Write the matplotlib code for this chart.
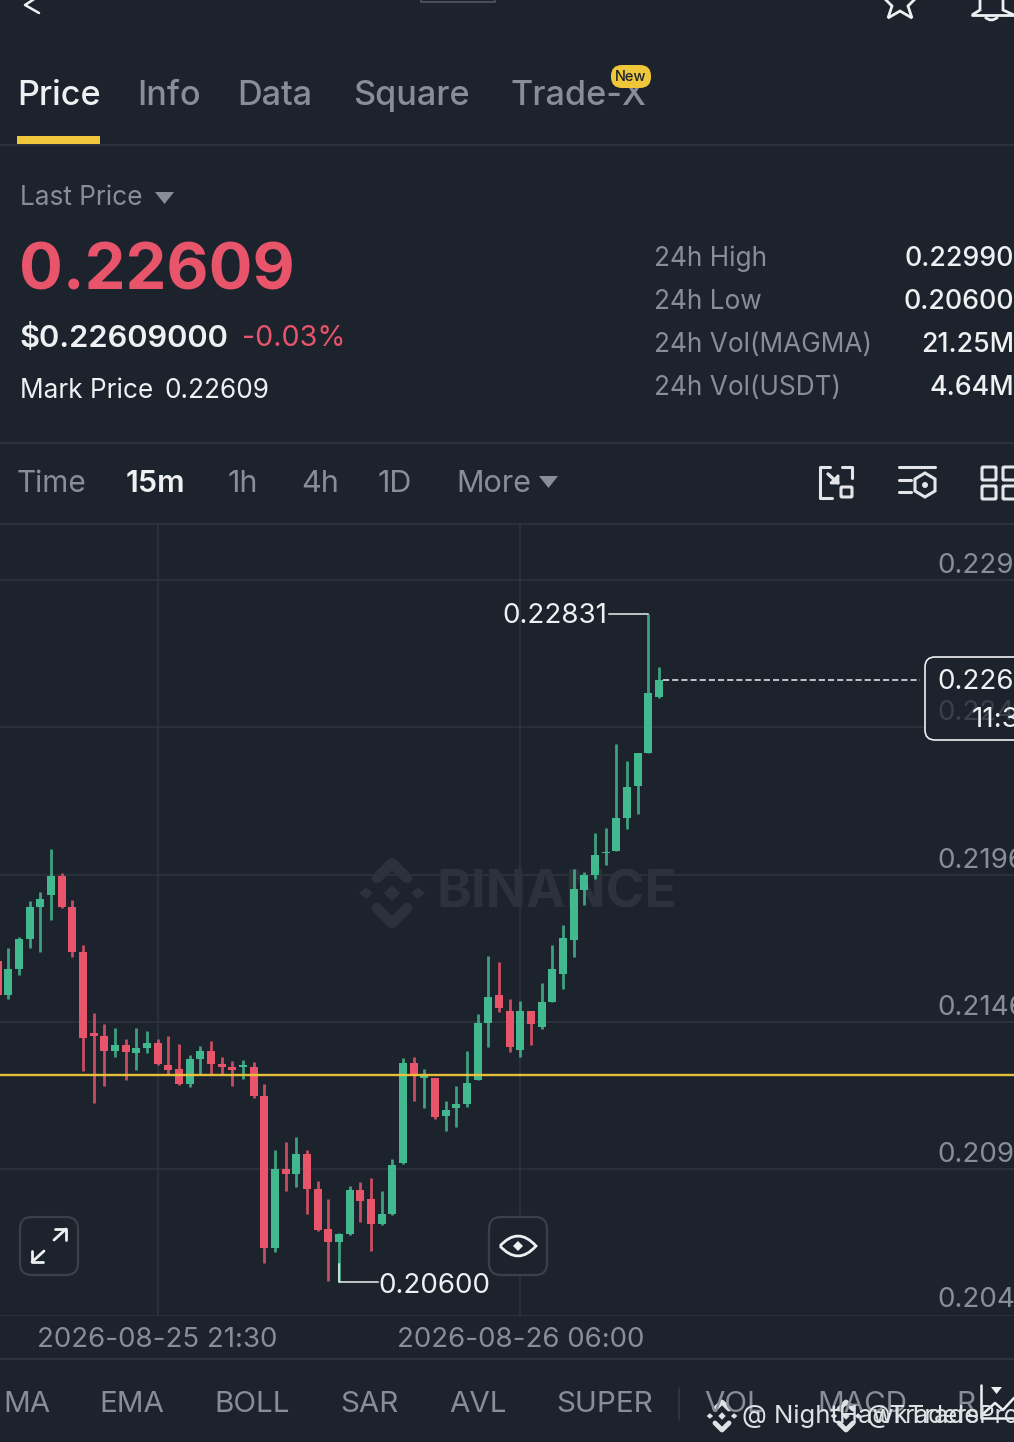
import matplotlib
matplotlib.use("Agg")
import matplotlib.pyplot as plt
from matplotlib.patches import FancyBboxPatch, Polygon, PathPatch, Circle, Rectangle
from matplotlib.path import Path

plt.rcParams['font.family'] = ['Inter', 'DejaVu Sans']

# ---------------- data ----------------
opens = [.21672,.21559,.21644,.21746,.21851,.21893,.21956,.21854,.21701,.21433,.21421,.21370,.21392,.21366,.21383,.21397,.21324,.21311,.21262,.21345,.21372,.21328,.21317,.21317,.21319,.21221,.20715,.20978,.20961,.21027,.20910,.20776,.20733,.20760,.20908,.20876,.20793,.20827,.20997,.21331,.21280,.21280,.21155,.21180,.21195,.21273,.21466,.21559,.21506,.21375,.21506,.21453,.21536,.21629,.21742,.21909,.21959,.22032,.22041,.22149,.22258,.22366,.22553]
highs = [.21687,.21715,.21751,.21873,.21904,.22046,.21965,.21876,.21726,.21497,.21461,.21447,.21411,.21447,.21438,.21411,.21420,.21394,.21358,.21388,.21406,.21353,.21339,.21342,.21336,.21262,.21041,.21067,.21083,.21041,.20938,.20876,.20763,.20921,.20935,.20949,.20905,.21010,.21347,.21353,.21313,.21283,.21203,.21255,.21370,.21494,.21689,.21670,.21544,.21540,.21506,.21600,.21726,.21792,.21978,.21968,.22098,.22117,.22397,.22340,.22366,.22831,.22653]
lows = [.21553,.21545,.21625,.21715,.21703,.21809,.21848,.21687,.21306,.21199,.21253,.21353,.21275,.21308,.21366,.21325,.21295,.21258,.21250,.21294,.21295,.21292,.21256,.21277,.21216,.20663,.20699,.20905,.20917,.20827,.20772,.20605,.20600,.20757,.20802,.20702,.20791,.20824,.20994,.21206,.21180,.21144,.21105,.21117,.21184,.21273,.21386,.21501,.21367,.21351,.21392,.21445,.21536,.21579,.21684,.21859,.21945,.21993,.22041,.22112,.22162,.22366,.22549]
closes = [.21559,.21644,.21746,.21851,.21879,.21956,.21854,.21701,.21416,.21423,.21373,.21392,.21367,.21382,.21397,.21327,.21308,.21260,.21345,.21372,.21327,.21319,.21308,.21325,.21221,.20715,.20978,.20961,.21027,.20910,.20774,.20733,.20760,.20908,.20871,.20793,.20827,.20991,.21331,.21288,.21294,.21152,.21175,.21195,.21266,.21464,.21553,.21514,.21384,.21506,.21461,.21534,.21644,.21748,.21913,.21959,.22026,.22037,.22149,.22254,.22366,.22566,.22609]
grid_prices = [.22945, .22453, .21961, .21469, .20977, .20485]
price_labels = ["0.22945", "0.21961", "0.21469", "0.20977", "0.20485"]
time_index = [15, 49]
time_labels = ["2026-08-25 21:30", "2026-08-26 06:00"]
key_level = .21291
last_price = .22609
high_idx, high_val = 61, .22831
low_idx, low_val = 32, .20600

tabs = ["Price", "Info", "Data", "Square", "Trade-X"]
tab_x = [17, 137, 237, 353, 510]
intervals = ["Time", "15m", "1h", "4h", "1D", "More"]
interval_x = [17, 126, 228, 301, 378, 456]
stat_names = ["24h High", "24h Low", "24h Vol(MAGMA)", "24h Vol(USDT)"]
stat_vals = ["0.22990", "0.20600", "21.25M", "4.64M"]
stat_y = [259, 302, 345, 388]
indicators = ["MA", "EMA", "BOLL", "SAR", "AVL", "SUPER", "VOL", "MACD", "RSI"]
indicator_x = [3, 99, 214, 340, 449, 556, 704, 817, 956]

# ---------------- style ----------------
BG = '#1d232d'
GRID = '#2e343e'
GREEN = '#41b88d'
RED = '#e8556a'
WHITE = '#eef0f2'
GREY = '#878e98'
YELLOW = '#f0c63a'

fig = plt.figure(figsize=(10.14, 14.42), dpi=100, facecolor=BG)
H = 1442.0; W = 1014.0

# chart axes, pixel rows 524..1316
ax = fig.add_axes([0, 1 - 1316 / H, 1, (1316 - 524) / H], facecolor=BG)
PX = 10.667
OFF = 2.37
ax.set_xlim(OFF / PX, (W + OFF) / PX)
ax.set_ylim(.206 + (1282 - 1316) / 29941, .206 + (1282 - 524) / 29941)
for s in ax.spines.values():
    s.set_visible(False)
ax.set_xticks([]); ax.set_yticks([])

for p in grid_prices:
    ax.axhline(p, color=GRID, lw=1.1, zorder=1)
for i in time_index:
    ax.axvline(i, color=GRID, lw=1.1, zorder=1)

# watermark
ax.text((436 + OFF) / PX, .206 + (1282 - 894) / 29941, "BINANCE", color='#2c323c', fontsize=38,
        fontweight='bold', va='center', ha='left', zorder=1.5)

for i, (o, h, l, c) in enumerate(zip(opens, highs, lows, closes)):
    col = GREEN if c >= o else RED
    ax.vlines(i, l, h, color=col, lw=2.0, alpha=.85, zorder=2)
    ax.bar(i, abs(c - o), bottom=min(o, c), width=.75, color=col, zorder=3, linewidth=0)

ax.axhline(key_level, color=YELLOW, lw=1.7, zorder=4, alpha=.95)
ax.plot([high_idx - 3.7, high_idx], [high_val, high_val], color=WHITE, lw=1.1, zorder=5)
ax.plot([low_idx, low_idx, low_idx + 3.7], [lows[low_idx] + .0006, low_val, low_val], color=WHITE, lw=1.1, zorder=5)
ax.plot([len(opens) - 1 + .35, (920 + OFF) / PX], [last_price, last_price], color=WHITE, lw=1.1,
        dashes=(4, 2), zorder=5)
ax.text(high_idx - 3.85, high_val - .00007, f"{high_val:.5f}", color=WHITE, fontsize=20, ha='right', va='center', zorder=6)
ax.text(low_idx + 3.7, low_val - .00012, f"{low_val:.5f}", color=WHITE, fontsize=20, ha='left', va='center', zorder=6)

# UI overlay in pixel units
ui = fig.add_axes([0, 0, 1, 1], facecolor='none')
ui.set_xlim(0, W); ui.set_ylim(H, 0); ui.axis('off')


def T(x, y, s, size, color=GREY, ha='left', weight='normal', z=10, alpha=None):
    ui.text(x, y + 2, s, fontsize=size, color=color, ha=ha, va='center', fontweight=weight, zorder=z, alpha=alpha)


def L(xs, ys, color=GRID, lw=1.2, z=8, **kw):
    ui.plot(xs, ys, color=color, lw=lw, zorder=z, solid_capstyle=kw.pop('cap', 'round'), **kw)


def box(x, y, w, h, r, ec, fc='none', lw=1.6, z=8):
    ui.add_patch(FancyBboxPatch((x, y), w, h, boxstyle=f"round,pad=0,rounding_size={r}", ec=ec, fc=fc, lw=lw, zorder=z))


def logo(cx, cy, r, color):
    s = r / 3.0
    ui.add_patch(Polygon([(cx, cy - s * .8), (cx + s * .8, cy), (cx, cy + s * .8), (cx - s * .8, cy)], fc=color, ec='none', zorder=9))
    for dx in (-1, 1):
        ui.add_patch(Polygon([(cx + dx * 2.6 * s, cy - .6 * s), (cx + dx * 3.3 * s, cy), (cx + dx * 2.6 * s, cy + .6 * s), (cx + dx * 1.9 * s, cy)], fc=color, ec='none', zorder=9))
    w = r * .25
    L([cx - 1.5 * s, cx, cx + 1.5 * s], [cy - 1.5 * s, cy - 3 * s, cy - 1.5 * s], color=color, lw=w, z=9)
    L([cx - 1.5 * s, cx, cx + 1.5 * s], [cy + 1.5 * s, cy + 3 * s, cy + 1.5 * s], color=color, lw=w, z=9)


# top partial icons
L([39, 25, 39], [-4, 5, 13], color=WHITE, lw=1.8)
star = [(900, -15), (905, -3), (917, -3), (908, 6), (912, 18), (900, 11), (888, 18), (892, 6), (883, -3), (895, -3)]
ui.add_patch(Polygon(star, closed=True, fc='none', ec=WHITE, lw=2.0, zorder=9))
ui.add_patch(PathPatch(Path([(972, 15), (980, 10), (980, -10), (1003, -10), (1003, 10), (1014, 15)]), fc='none', ec=WHITE, lw=2.0, zorder=9))
L([972, 1014], [15, 15], color=WHITE, lw=2.0)
ui.add_patch(PathPatch(Path([(985, 17), (991, 23), (998, 17)], [Path.MOVETO, Path.CURVE3, Path.CURVE3]), fc='none', ec=WHITE, lw=2.0, zorder=9))
L([421, 421, 495, 495], [-5, 1.5, 1.5, -5], color='#4a505a', lw=1.4)

# tabs
for i, (t, x) in enumerate(zip(tabs, tab_x)):
    T(x, 94, t, 24.6, WHITE if i == 0 else GREY, weight='medium')
ui.add_patch(Rectangle((17, 136), 83, 8, fc=YELLOW, ec='none', zorder=9))
L([0, W], [144.5, 144.5], cap='butt')
box(611, 65, 40, 23, 11, 'none', YELLOW, 0, z=11)
T(631, 75, "New", 10.5, '#1d232d', ha='center', weight='medium', z=12)

# price header
T(20, 196, "Last Price", 18.9, GREY)
ui.add_patch(Polygon([(155, 192), (174, 192), (164.5, 204)], fc=GREY, ec='none', zorder=9))
T(19, 271, "0.22609", 46.8, RED, weight='bold')
T(19, 336, "$0.22609000", 22.2, WHITE, weight='semibold')
T(242, 337, "-0.03%", 20.6, RED)
T(20, 389, "Mark Price", 18.9, WHITE)
T(165, 389, "0.22609", 18.9, WHITE)
for n, v, y in zip(stat_names, stat_vals, stat_y):
    T(654, y - 2, n, 18.9, GREY)
    T(1014, y - 2, v, 19.3, WHITE, ha='right', weight='medium')
L([0, W], [442.5, 442.5], cap='butt')

# interval row
for i, (t, x) in enumerate(zip(intervals, interval_x)):
    T(x, 482, t, 22 if i else 21.5, WHITE if i == 1 else GREY, weight='semibold' if i == 1 else 'normal')
ui.add_patch(Polygon([(539, 476), (558, 476), (548.5, 488)], fc=GREY, ec='none', zorder=9))
L([0, W], [523.5, 523.5], cap='butt')

# toolbar icons
IC = '#e3e5e8'
L([832, 820, 820, 830], [498, 498, 467, 467], color=IC, lw=2.2)
L([842, 852, 852], [467, 467, 478], color=IC, lw=2.2)
box(841, 487, 11, 10, 1, IC, lw=2.2)
L([828, 838], [474, 483], color=IC, lw=2.4)
L([838, 831, 838, 838], [476, 483, 483, 476], color=IC, lw=2)
L([899, 935], [467, 467], color=IC, lw=2.2)
L([899, 911], [480, 480], color=IC, lw=2.2)
L([899, 911], [492, 492], color=IC, lw=2.2)
ui.add_patch(Polygon([(925, 473), (935, 479), (935, 491), (925, 497), (915, 491), (915, 479)], fc='none', ec=IC, lw=2.2, zorder=9))
ui.add_patch(Circle((925, 485), 3, fc=IC, ec='none', zorder=9))
for xx in (982, 1003):
    for yy in (467, 486):
        box(xx, yy, 14, 13, 1, IC, lw=2.2)

# axis labels
ys_lab = [564, 859, 1006, 1153, 1298]
for s, y in zip(price_labels, ys_lab):
    T(937, y, s, 20, GREY)
box(925, 657, 140, 83, 10, WHITE, BG, 1.2, z=9)
T(937, 711, "0.22453", 20, '#3a404a', z=10)
T(937, 680, "0.22609", 20, WHITE, z=11)
T(972, 718, "11:32", 20, WHITE, z=11)

# chart buttons
box(20, 1217, 58, 58, 12, '#3a4049', BG, 1.6)
L([54, 66], [1240, 1229], color=WHITE, lw=2)
L([55, 66, 66], [1229, 1229, 1240], color=WHITE, lw=2)
L([32, 44], [1262, 1251], color=WHITE, lw=2)
L([32, 32, 43], [1251, 1262, 1262], color=WHITE, lw=2)
box(489, 1217, 58, 58, 12, '#3a4049', BG, 1.6)
eye = Path([(500, 1246), (518, 1226), (536, 1246), (518, 1266), (500, 1246)],
           [Path.MOVETO, Path.CURVE3, Path.CURVE3, Path.CURVE3, Path.CURVE3])
ui.add_patch(PathPatch(eye, fc='none', ec=WHITE, lw=2, zorder=9))
ui.add_patch(Polygon([(518, 1241), (523, 1246), (518, 1251), (513, 1246)], fc=WHITE, ec='none', zorder=9))
logo(392, 893, 30, '#2c323c')

# time labels and bottom row
for i, s in zip(time_index, time_labels):
    T(i * PX - OFF, 1338, s, 19.9, GREY, ha='center')
L([0, W], [1358.5, 1358.5], cap='butt', lw=1.6)
for s, x in zip(indicators, indicator_x):
    T(x, 1403, s, 21.3, GREY)
L([679, 679], [1388, 1420], color='#333944')
ui.add_patch(Rectangle((975, 1384), 39, 40, fc=BG, ec='none', zorder=10.5))

L([981, 981, 1014], [1385, 1418, 1418], color=WHITE, lw=1.8, z=11)
L([983, 995, 1003, 1014], [1414, 1403, 1410, 1398], color=WHITE, lw=1.8, z=11)
ui.add_patch(Polygon([(991, 1387), (1002, 1387), (996.5, 1394)], fc=WHITE, ec='none', zorder=11))

# overlapped repost watermarks
logo(722, 1416, 14, '#dfe2e5')
T(742, 1414, "@ NightHawkTrade", 18.5, '#dfe2e5', z=13)
logo(846, 1416, 14, '#dfe2e5')
T(866, 1414, "@TradersPro", 17.5, '#dfe2e5', z=13)

fig.savefig('out.png', dpi=100, facecolor=BG)
